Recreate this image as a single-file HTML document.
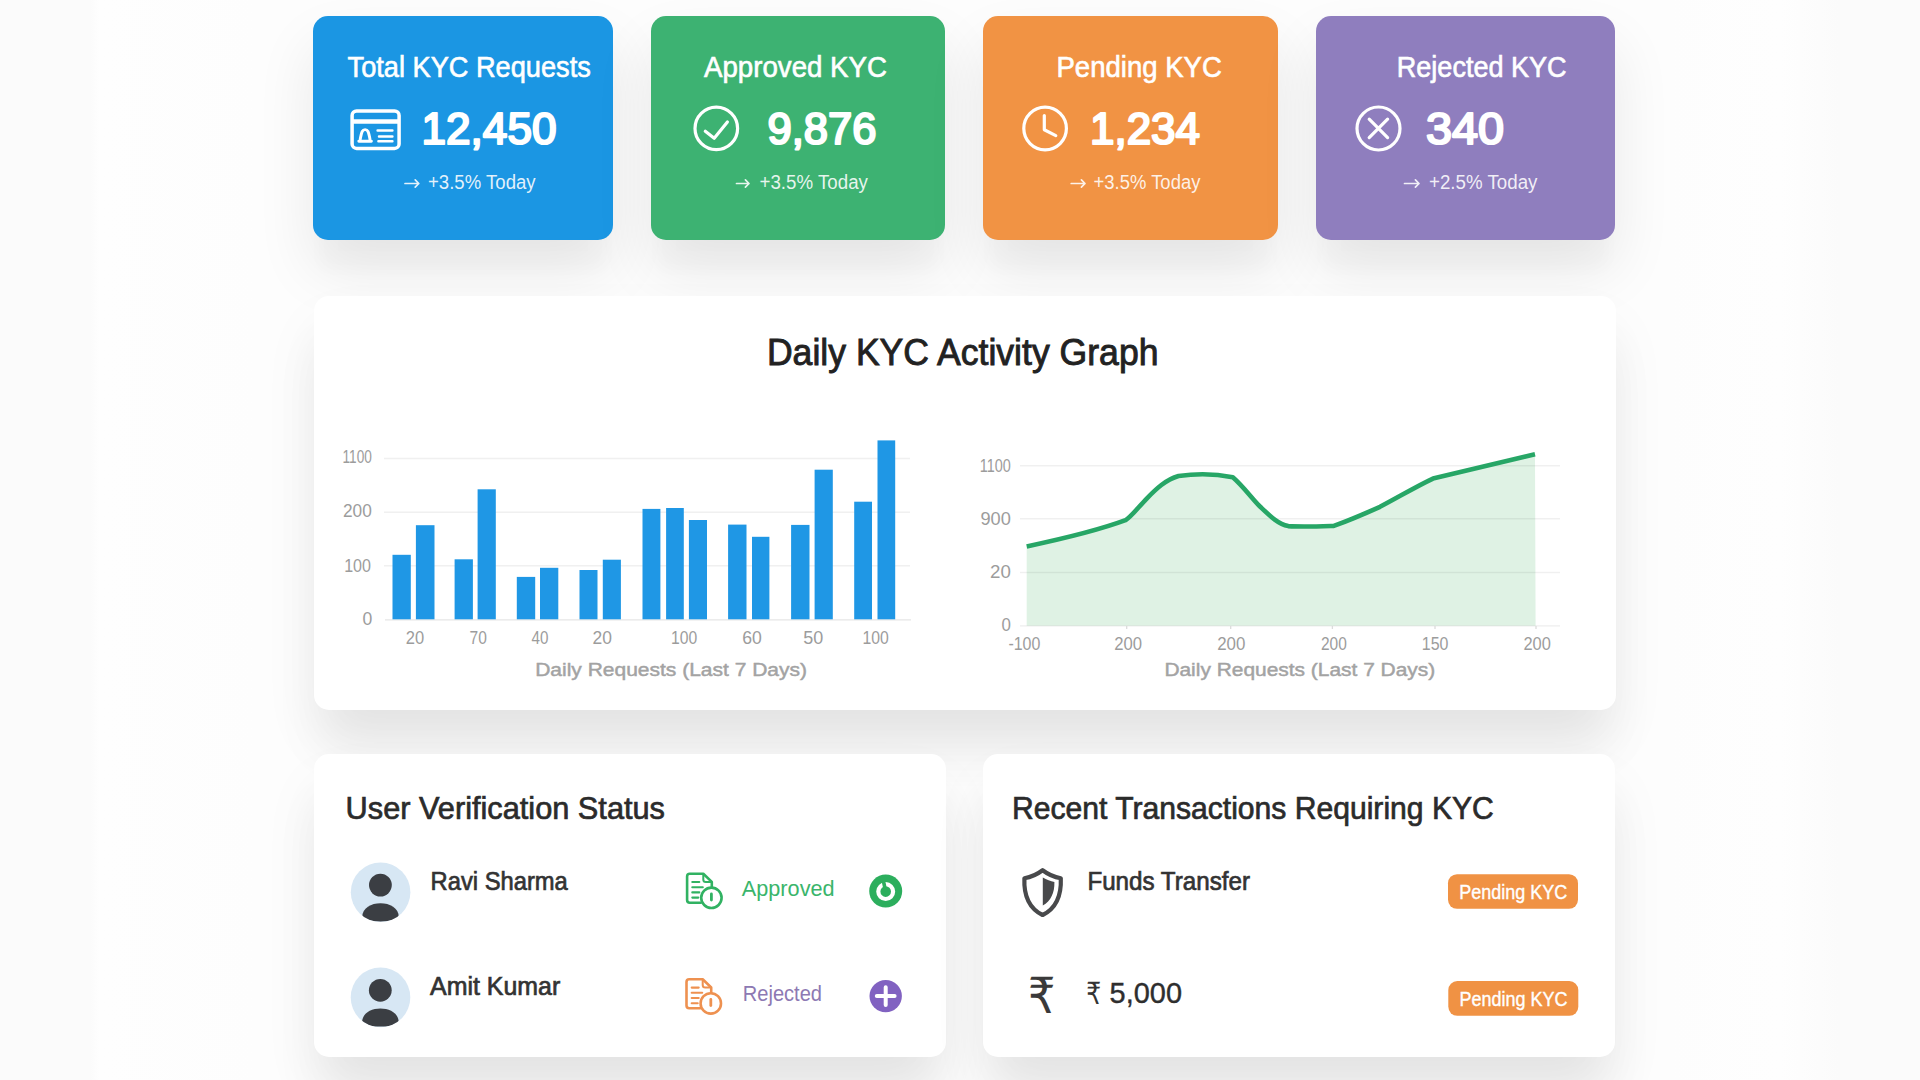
<!DOCTYPE html>
<html lang="en">
<head>
<meta charset="utf-8">
<title>KYC Dashboard</title>
<style>
*{box-sizing:border-box;margin:0;padding:0}
html,body{width:1920px;height:1080px;overflow:hidden}
body{background:linear-gradient(90deg,#fbfbfb 0,#fbfbfb 90px,#fefefe 100px,#fdfdfd 260px,#fdfdfd 1670px,#fefefe 1780px,#fbfbfb 1840px,#fbfbfb 100%);font-family:"Liberation Sans","DejaVu Sans",sans-serif;position:relative}
.stat,.panel{position:absolute;overflow:visible}
.stat{border-radius:15px;box-shadow:0 30px 60px rgba(0,0,0,.085),0 36px 16px -6px rgba(0,0,0,.016)}
.panel{background:#fff;border-radius:15px;box-shadow:0 30px 60px rgba(0,0,0,.05),0 45px 50px -5px rgba(0,0,0,.06)}
.stat svg,.panel svg{position:absolute;left:0;top:0;display:block}
.blue{background:#1b96e3}.green{background:#3db272}.orange{background:#f19344}.purple{background:#8f7ebe}
h1,h2,h3{font-weight:400}
</style>
</head>
<body>
<main>

<section class="stat blue" style="left:313px;top:16px;width:300px;height:224px">
<svg width="300" height="224" viewBox="313 16 300 224" font-family='"Liberation Sans", "DejaVu Sans", sans-serif'>
<text x="347.6" y="76.5" font-size="30.4" fill="#fff" textLength="243.2" lengthAdjust="spacingAndGlyphs" stroke="#fff" stroke-width="0.65">Total KYC Requests</text>
<g fill="none" stroke="#fff" stroke-width="3.5" stroke-linejoin="round" stroke-linecap="round"><rect x="352.1" y="111" width="47" height="37.4" rx="4.5"/><path d="M352.5 121.6H399" stroke-width="4.5" stroke-linecap="butt"/><path d="M377.6 130.4H392.4M379 136.4H392.4M378.4 141.2H392.4" stroke-width="2.5"/><path d="M358.8 141.3H371.4M360 140.6C361.6 131 362.6 129.6 365.1 129.6C367.6 129.6 368.6 131 370.2 140.6" stroke-width="2.9"/></g>
<text x="421.5" y="144.3" font-size="43.8" fill="#fff" textLength="135.0" lengthAdjust="spacingAndGlyphs" stroke-linejoin="round" stroke="#fff" stroke-width="2.2">12,450</text>
<path d="M405.0 183.5H418.8M415.2 179.9L418.8 183.5L415.2 187.1" fill="none" stroke="rgba(255,255,255,.88)" stroke-width="1.7" stroke-linecap="round" stroke-linejoin="round"/>
<text x="428.0" y="188.8" font-size="19.4" fill="rgba(255,255,255,.88)" textLength="107.6" lengthAdjust="spacingAndGlyphs">+3.5% Today</text>
</svg></section>
<section class="stat green" style="left:651px;top:16px;width:294px;height:224px">
<svg width="294" height="224" viewBox="651 16 294 224" font-family='"Liberation Sans", "DejaVu Sans", sans-serif'>
<text x="704.0" y="76.5" font-size="30.4" fill="#fff" textLength="183.0" lengthAdjust="spacingAndGlyphs" stroke="#fff" stroke-width="0.65">Approved KYC</text>
<g fill="none" stroke="#fff" stroke-width="3.2" stroke-linecap="round" stroke-linejoin="round"><circle cx="716.3" cy="128.4" r="21.3"/><path d="M705.3 131.2L714.2 138.2L727.4 122"/></g>
<text x="767.5" y="143.9" font-size="43.8" fill="#fff" textLength="109.0" lengthAdjust="spacingAndGlyphs" stroke-linejoin="round" stroke="#fff" stroke-width="2.2">9,876</text>
<path d="M736.5 183.5H749.0M745.4 179.9L749.0 183.5L745.4 187.1" fill="none" stroke="rgba(255,255,255,.88)" stroke-width="1.7" stroke-linecap="round" stroke-linejoin="round"/>
<text x="759.5" y="189.0" font-size="19.4" fill="rgba(255,255,255,.88)" textLength="108.5" lengthAdjust="spacingAndGlyphs">+3.5% Today</text>
</svg></section>
<section class="stat orange" style="left:983px;top:16px;width:295px;height:224px">
<svg width="295" height="224" viewBox="983 16 295 224" font-family='"Liberation Sans", "DejaVu Sans", sans-serif'>
<text x="1056.5" y="76.8" font-size="30.4" fill="#fff" textLength="165.3" lengthAdjust="spacingAndGlyphs" stroke="#fff" stroke-width="0.65">Pending KYC</text>
<g fill="none" stroke="#fff" stroke-width="3.2" stroke-linecap="round" stroke-linejoin="round"><circle cx="1045.1" cy="128.5" r="21.3"/><path d="M1044.3 115.5V129.8L1055.8 135.6"/></g>
<text x="1090.0" y="144.1" font-size="43.8" fill="#fff" textLength="110.0" lengthAdjust="spacingAndGlyphs" stroke-linejoin="round" stroke="#fff" stroke-width="2.2">1,234</text>
<path d="M1071.2 183.5H1085.0M1081.4 179.9L1085.0 183.5L1081.4 187.1" fill="none" stroke="rgba(255,255,255,.88)" stroke-width="1.7" stroke-linecap="round" stroke-linejoin="round"/>
<text x="1093.5" y="189.0" font-size="19.4" fill="rgba(255,255,255,.88)" textLength="106.9" lengthAdjust="spacingAndGlyphs">+3.5% Today</text>
</svg></section>
<section class="stat purple" style="left:1316px;top:16px;width:299px;height:224px">
<svg width="299" height="224" viewBox="1316 16 299 224" font-family='"Liberation Sans", "DejaVu Sans", sans-serif'>
<text x="1396.8" y="76.8" font-size="30.4" fill="#fff" textLength="169.8" lengthAdjust="spacingAndGlyphs" stroke="#fff" stroke-width="0.65">Rejected KYC</text>
<g fill="none" stroke="#fff" stroke-width="3.2" stroke-linecap="round" stroke-linejoin="round"><circle cx="1378.5" cy="128.5" r="21.5"/><path d="M1369.2 119.2L1387.6 137.6M1387.6 119.2L1369.2 137.6"/></g>
<text x="1426.0" y="144.1" font-size="43.8" fill="#fff" textLength="78.0" lengthAdjust="spacingAndGlyphs" stroke-linejoin="round" stroke="#fff" stroke-width="2.2">340</text>
<path d="M1404.5 183.5H1419.0M1415.4 179.9L1419.0 183.5L1415.4 187.1" fill="none" stroke="rgba(255,255,255,.88)" stroke-width="1.7" stroke-linecap="round" stroke-linejoin="round"/>
<text x="1429.0" y="189.0" font-size="19.4" fill="rgba(255,255,255,.88)" textLength="108.5" lengthAdjust="spacingAndGlyphs">+2.5% Today</text>
</svg></section>
<section class="panel" style="left:314px;top:296px;width:1302px;height:414px">
<svg width="1302" height="414" viewBox="314 296 1302 414" font-family='"Liberation Sans", "DejaVu Sans", sans-serif'>
<text x="766.9" y="365.3" font-size="36.5" fill="#222" textLength="391.6" lengthAdjust="spacingAndGlyphs" stroke="#222" stroke-width="0.9">Daily KYC Activity Graph</text>
<g stroke="#f0f0f0" stroke-width="1.5"><path d="M384 458.6H910M384 512.2H910M384 565.8H910"/></g>
<path d="M385 619.9H911" stroke="#e6e6e6" stroke-width="1.4"/>
<g fill="#1f97e5">
<rect x="392.5" y="554.8" width="18.3" height="64.5"/>
<rect x="415.9" y="525.2" width="18.6" height="94.1"/>
<rect x="454.6" y="559.3" width="18.3" height="60.0"/>
<rect x="477.6" y="489.3" width="18.2" height="130.0"/>
<rect x="516.8" y="576.9" width="18.4" height="42.4"/>
<rect x="540" y="567.8" width="18.3" height="51.5"/>
<rect x="579.5" y="570" width="18.0" height="49.3"/>
<rect x="602.8" y="559.7" width="18.1" height="59.6"/>
<rect x="642.5" y="508.9" width="17.9" height="110.4"/>
<rect x="666.1" y="508" width="17.7" height="111.3"/>
<rect x="688.9" y="520" width="18.1" height="99.3"/>
<rect x="728.1" y="524.6" width="18.4" height="94.7"/>
<rect x="752" y="536.8" width="17.4" height="82.5"/>
<rect x="791.1" y="524.9" width="18.4" height="94.4"/>
<rect x="814.6" y="469.7" width="18.2" height="149.6"/>
<rect x="854.2" y="501.7" width="17.8" height="117.6"/>
<rect x="877.5" y="440.4" width="17.7" height="178.9"/>
</g>
<g font-size="17.6" fill="#9c9c9c">
<text x="342.5" y="463.3" font-size="17.6" fill="#9c9c9c" textLength="29.3" lengthAdjust="spacingAndGlyphs">1100</text>
<text x="343.0" y="517.4" font-size="17.6" fill="#9c9c9c" textLength="28.8" lengthAdjust="spacingAndGlyphs">200</text>
<text x="344.2" y="571.6" font-size="17.6" fill="#9c9c9c" textLength="26.8" lengthAdjust="spacingAndGlyphs">100</text>
<text x="362.6" y="625.0" font-size="17.6" fill="#9c9c9c" textLength="9.8" lengthAdjust="spacingAndGlyphs">0</text>
<text x="405.8" y="643.8" font-size="17.6" fill="#9c9c9c" textLength="18.4" lengthAdjust="spacingAndGlyphs">20</text>
<text x="469.5" y="643.8" font-size="17.6" fill="#9c9c9c" textLength="17.3" lengthAdjust="spacingAndGlyphs">70</text>
<text x="531.5" y="643.8" font-size="17.6" fill="#9c9c9c" textLength="16.9" lengthAdjust="spacingAndGlyphs">40</text>
<text x="592.6" y="643.8" font-size="17.6" fill="#9c9c9c" textLength="19.4" lengthAdjust="spacingAndGlyphs">20</text>
<text x="671.0" y="643.8" font-size="17.6" fill="#9c9c9c" textLength="26.2" lengthAdjust="spacingAndGlyphs">100</text>
<text x="742.2" y="643.8" font-size="17.6" fill="#9c9c9c" textLength="19.6" lengthAdjust="spacingAndGlyphs">60</text>
<text x="803.3" y="643.8" font-size="17.6" fill="#9c9c9c" textLength="20.0" lengthAdjust="spacingAndGlyphs">50</text>
<text x="862.5" y="643.8" font-size="17.6" fill="#9c9c9c" textLength="26.3" lengthAdjust="spacingAndGlyphs">100</text>
</g>
<text x="535.2" y="675.8" font-size="18.3" fill="#a3a3a3" textLength="271.8" lengthAdjust="spacingAndGlyphs" stroke="#a3a3a3" stroke-width="0.45">Daily Requests (Last 7 Days)</text>
<path d="M1026.7 546.5 C1060 539.4 1095 531.6 1125.5 520.2 C1131 517 1139 506.5 1146.5 498.8 C1156 489 1166 479.5 1178.5 476 C1195 473.6 1216 473.8 1232.8 477.2 C1243 486 1252 498.5 1260 506.5 C1270 516 1278 524 1288.3 526.1 C1302 527 1318 526.4 1333.8 525.9 C1350 520 1364 514 1380 506.8 C1398 497.5 1415 487 1433 478.6 L1535 454.2 L1535.6 625.8 L1026.7 625.8 Z" fill="#dff2e4"/>
<g stroke="rgba(0,0,0,.06)" stroke-width="1.5"><path d="M1020 465.8H1560M1020 518.8H1560M1020 572.6H1560"/></g>
<path d="M1020 625.9H1560" stroke="rgba(0,0,0,.07)" stroke-width="1.4"/>
<path d="M1126.7 626V629M1230.7 626V629M1332.4 626V629M1435 626V629M1536 626V629" stroke="#dcdcdc" stroke-width="1.3"/>
<path d="M1026.7 546.5 C1060 539.4 1095 531.6 1125.5 520.2 C1131 517 1139 506.5 1146.5 498.8 C1156 489 1166 479.5 1178.5 476 C1195 473.6 1216 473.8 1232.8 477.2 C1243 486 1252 498.5 1260 506.5 C1270 516 1278 524 1288.3 526.1 C1302 527 1318 526.4 1333.8 525.9 C1350 520 1364 514 1380 506.8 C1398 497.5 1415 487 1433 478.6 L1535 454.2" fill="none" stroke="#27a666" stroke-width="4.6" stroke-linejoin="round" stroke-linecap="butt"/>
<text x="979.8" y="471.6" font-size="17.6" fill="#9c9c9c" textLength="31.0" lengthAdjust="spacingAndGlyphs">1100</text>
<text x="980.4" y="525.0" font-size="17.6" fill="#9c9c9c" textLength="30.4" lengthAdjust="spacingAndGlyphs">900</text>
<text x="990.0" y="577.5" font-size="17.6" fill="#9c9c9c" textLength="20.8" lengthAdjust="spacingAndGlyphs">20</text>
<text x="1001.4" y="631.2" font-size="17.6" fill="#9c9c9c" textLength="9.4" lengthAdjust="spacingAndGlyphs">0</text>
<text x="1008.4" y="650.0" font-size="17.6" fill="#9c9c9c" textLength="32.0" lengthAdjust="spacingAndGlyphs">-100</text>
<text x="1114.2" y="650.0" font-size="17.6" fill="#9c9c9c" textLength="27.8" lengthAdjust="spacingAndGlyphs">200</text>
<text x="1217.2" y="650.0" font-size="17.6" fill="#9c9c9c" textLength="28.2" lengthAdjust="spacingAndGlyphs">200</text>
<text x="1321.0" y="650.0" font-size="17.6" fill="#9c9c9c" textLength="25.8" lengthAdjust="spacingAndGlyphs">200</text>
<text x="1421.8" y="650.0" font-size="17.6" fill="#9c9c9c" textLength="26.6" lengthAdjust="spacingAndGlyphs">150</text>
<text x="1523.4" y="650.0" font-size="17.6" fill="#9c9c9c" textLength="27.4" lengthAdjust="spacingAndGlyphs">200</text>
<text x="1164.4" y="675.8" font-size="18.3" fill="#a3a3a3" textLength="270.8" lengthAdjust="spacingAndGlyphs" stroke="#a3a3a3" stroke-width="0.45">Daily Requests (Last 7 Days)</text>
</svg></section>
<section class="panel" style="left:314px;top:754px;width:632px;height:303px">
<svg width="632" height="303" viewBox="314 754 632 303" font-family='"Liberation Sans", "DejaVu Sans", sans-serif'>
<text x="345.6" y="819.0" font-size="31.6" fill="#2b2b2b" textLength="319.4" lengthAdjust="spacingAndGlyphs" stroke="#2b2b2b" stroke-width="0.7">User Verification Status</text>
<clipPath id="av1"><circle cx="380.6" cy="892.2" r="29.8"/></clipPath><circle cx="380.6" cy="892.2" r="29.8" fill="#d7e7f4"/><g fill="#3b3e43" clip-path="url(#av1)"><circle cx="380.4" cy="885.1" r="11.4"/><path d="M362.2 917.2C362.2 898.7 398.8 898.7 398.8 917.2C389.6 922.8 371.6 922.8 362.2 917.2Z"/></g>
<text x="430.6" y="889.5" font-size="25.6" fill="#333" textLength="137.2" lengthAdjust="spacingAndGlyphs" stroke="#333" stroke-width="0.7">Ravi Sharma</text>
<g fill="none" stroke="#31b262" stroke-width="2.6" stroke-linejoin="round" stroke-linecap="round"><path d="M700.8 902.7H689.8Q687.1 902.7 687.1 900.0V876.4Q687.1 873.7 689.8 873.7H703.3L711.8 881.9V887.4"/><path d="M703.3 874.2V879.4Q703.3 881.9 705.8 881.9H711.3" stroke-width="2"/><path d="M692.3 882.0H699.3M692.3 887.2H702.8M692.3 892.4H699.3M692.3 897.6H698.3" stroke-width="2.1"/><circle cx="711.4" cy="897.8" r="10.2" fill="#fff"/><path d="M711.4 893.9V900.0" stroke-width="2.8"/></g>
<text x="741.8" y="896.4" font-size="21.8" fill="#3ab56b" textLength="92.8" lengthAdjust="spacingAndGlyphs">Approved</text>
<circle cx="885.7" cy="891.1" r="16.5" fill="#2cae5d"/><circle cx="885.7" cy="891.6" r="7.4" fill="none" stroke="#fff" stroke-width="4.2"/><path d="M885.7 891.6L883.2 880" stroke="#2cae5d" stroke-width="3.6"/>
<clipPath id="av2"><circle cx="380.5" cy="997.4" r="29.8"/></clipPath><circle cx="380.5" cy="997.4" r="29.8" fill="#d7e7f4"/><g fill="#3b3e43" clip-path="url(#av2)"><circle cx="380.3" cy="990.3" r="11.4"/><path d="M362.1 1022.4C362.1 1003.9 398.7 1003.9 398.7 1022.4C389.5 1028.0 371.5 1028.0 362.1 1022.4Z"/></g>
<text x="430.0" y="995.2" font-size="25.6" fill="#333" textLength="130.2" lengthAdjust="spacingAndGlyphs" stroke="#333" stroke-width="0.7">Amit Kumar</text>
<g fill="none" stroke="#ee9150" stroke-width="2.6" stroke-linejoin="round" stroke-linecap="round"><path d="M700.2 1008.3H689.2Q686.5 1008.3 686.5 1005.6V982.0Q686.5 979.3 689.2 979.3H702.7L711.2 987.5V993.0"/><path d="M702.7 979.8V985.0Q702.7 987.5 705.2 987.5H710.7" stroke-width="2"/><path d="M691.7 987.6H698.7M691.7 992.8H702.2M691.7 998.0H698.7M691.7 1003.2H697.7" stroke-width="2.1"/><circle cx="710.8" cy="1003.4" r="10.2" fill="#fff"/><path d="M710.8 999.5V1005.6" stroke-width="2.8"/></g>
<text x="742.8" y="1001.1" font-size="21.8" fill="#8d79b3" textLength="79.2" lengthAdjust="spacingAndGlyphs">Rejected</text>
<circle cx="885.7" cy="996.1" r="16.2" fill="#8162c1"/><path d="M876.8 996.1H894.6M885.7 987.2V1005" stroke="#fff" stroke-width="4" stroke-linecap="round"/>
</svg></section>
<section class="panel" style="left:983px;top:754px;width:632px;height:303px">
<svg width="632" height="303" viewBox="983 754 632 303" font-family='"Liberation Sans", "DejaVu Sans", sans-serif'>
<text x="1012.0" y="819.3" font-size="31.6" fill="#2b2b2b" textLength="481.8" lengthAdjust="spacingAndGlyphs" stroke="#2b2b2b" stroke-width="0.7">Recent Transactions Requiring KYC</text>
<path d="M1042.6 870.2C1036.5 874.8 1030.5 877.2 1024.4 878.3C1023.6 897 1029.5 908.5 1042.6 915C1055.7 908.5 1061.6 897 1060.8 878.3C1054.7 877.2 1048.7 874.8 1042.6 870.2Z" fill="none" stroke="#48494b" stroke-width="4.2" stroke-linejoin="round"/><path d="M1042.8 877.6C1046.6 880 1050.5 881.3 1054.4 882C1054.6 893 1051 900.8 1042.8 905.6Z" fill="#48494b"/>
<text x="1087.4" y="889.5" font-size="25.6" fill="#333" textLength="162.6" lengthAdjust="spacingAndGlyphs" stroke="#333" stroke-width="0.7">Funds Transfer</text>
<rect x="1448" y="874.2" width="130" height="34.6" rx="9" fill="#f09244"/>
<text x="1459.2" y="898.5" font-size="20.6" fill="#fff" textLength="108.0" lengthAdjust="spacingAndGlyphs" stroke="#fff" stroke-width="0.4">Pending KYC</text>
<text x="1028.1" y="1013.1" font-family='"DejaVu Sans", sans-serif' font-size="49.7" fill="#3a3a3a" textLength="27.4" lengthAdjust="spacingAndGlyphs">₹</text>
<text x="1086.3" y="1003.6" font-family='"DejaVu Sans", sans-serif' font-size="30.4" fill="#333" textLength="14.9" lengthAdjust="spacingAndGlyphs">₹</text>
<text x="1109.6" y="1002.7" font-size="30" fill="#2e2e2e" textLength="72.4" lengthAdjust="spacingAndGlyphs" stroke="#2e2e2e" stroke-width="0.4">5,000</text>
<rect x="1448.3" y="981" width="130" height="34.8" rx="9" fill="#f09244"/>
<text x="1459.4" y="1005.5" font-size="20.6" fill="#fff" textLength="108.0" lengthAdjust="spacingAndGlyphs" stroke="#fff" stroke-width="0.4">Pending KYC</text>
</svg></section>
</main>
</body>
</html>
